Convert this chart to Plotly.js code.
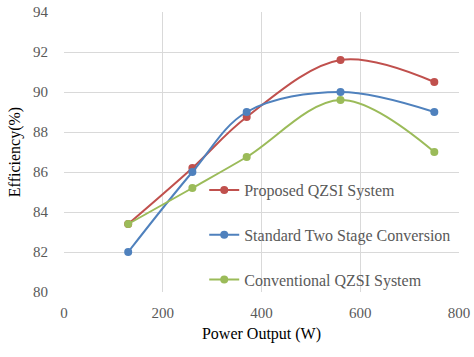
<!DOCTYPE html>
<html>
<head>
<meta charset="utf-8">
<script src="https://cdn.plot.ly/plotly-3.0.1.min.js"></script>
<style>html,body{margin:0;padding:0;background:#fff;}#chart{width:474px;height:357px;}</style>
</head>
<body>
<div id="chart"></div>
<script>
var power = [130, 260, 370, 560, 750];
var proposed = [83.4, 86.2, 88.75, 91.6, 90.5];
var standard = [82.0, 86.0, 89.0, 90.0, 89.0];
var conventional = [83.4, 85.2, 86.75, 89.6, 87.0];
var names = ["Proposed QZSI System", "Standard Two Stage Conversion", "Conventional QZSI System"];
var colors = ["#C0504D", "#4F81BD", "#9BBB59"];
var series = [proposed, standard, conventional];

var traces = series.map(function (s, i) {
  return {
    x: power, y: s, name: names[i], type: "scatter", mode: "lines+markers",
    legendgroup: "g" + i,
    line: {color: colors[i], width: 2, shape: "spline", smoothing: 1},
    marker: {color: colors[i], size: 8}
  };
});

var serif = "Liberation Serif, DejaVu Serif, Noto Serif, serif";
var layout = {
  width: 474, height: 357,
  margin: {l: 64, r: 15, t: 12, b: 65},
  paper_bgcolor: "#fff", plot_bgcolor: "#fff",
  font: {family: serif, color: "#595959", size: 15},
  xaxis: {
    range: [0, 800], dtick: 200, tick0: 0, showgrid: true, gridcolor: "#d9d9d9",
    zeroline: false, showline: false, ticks: "outside", ticklen: 7, tickcolor: "rgba(0,0,0,0)",
    tickfont: {family: serif, size: 15, color: "#595959"},
    title: {text: "Power Output (W)", font: {family: serif, size: 16, color: "#000"}, standoff: 7}
  },
  yaxis: {
    range: [80, 94], dtick: 2, tick0: 80, showgrid: true, gridcolor: "#d9d9d9",
    zeroline: false, showline: false, ticks: "outside", ticklen: 12, tickcolor: "rgba(0,0,0,0)",
    tickfont: {family: serif, size: 15, color: "#595959"},
    title: {text: "Efficiency(%)", font: {family: serif, size: 16, color: "#000"}, standoff: 8}
  },
  showlegend: true,
  legend: {
    x: 0.355, y: 0.425, xanchor: "left", yanchor: "top",
    bgcolor: "rgba(0,0,0,0)", borderwidth: 0,
    traceorder: "grouped", tracegroupgap: 21,
    itemwidth: 30,
    font: {family: serif, size: 16, color: "#595959"}
  }
};

Plotly.newPlot("chart", traces, layout, {displayModeBar: false, staticPlot: true});
</script>
</body>
</html>
